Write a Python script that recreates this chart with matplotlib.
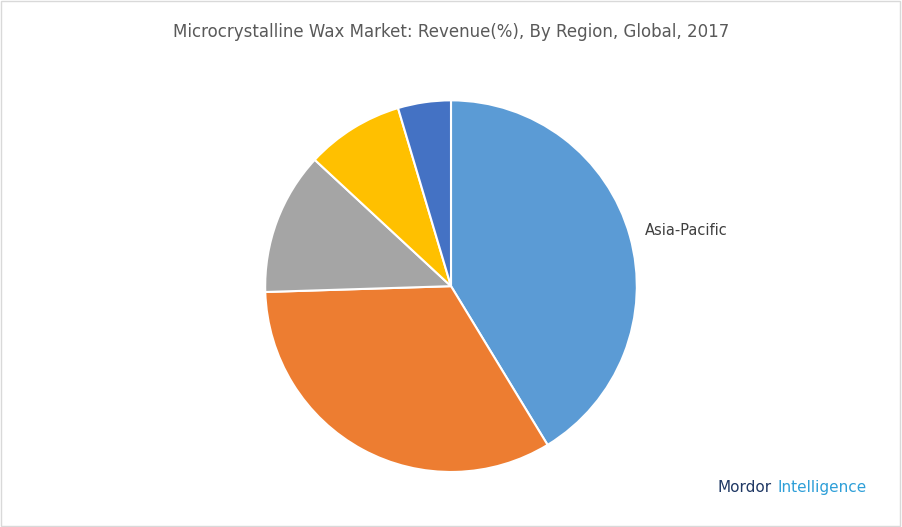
import matplotlib.pyplot as plt
from matplotlib.patches import Rectangle

regions = ["Asia-Pacific", "Europe", "North America", "South America", "Middle East & Africa"]
shares = [41.3, 33.2, 12.4, 8.5, 4.6]
colors = ["#5b9bd5", "#ed7d31", "#a5a5a5", "#ffc000", "#4472c4"]

fig = plt.figure(figsize=(9.02, 5.27), dpi=100)
fig.patches.append(Rectangle((0.001, 0.002), 0.997, 0.996, transform=fig.transFigure,
                             fill=False, edgecolor="#d9d9d9", linewidth=1))

ax = fig.add_axes([0.294, 0.104, 0.412, 0.706])
ax.pie(shares, colors=colors, startangle=90, counterclock=False,
       wedgeprops=dict(edgecolor="white", linewidth=1.5))
ax.set_xlim(-1, 1)
ax.set_ylim(-1, 1)
ax.set_aspect("equal")

fig.text(0.5, 0.94, "Microcrystalline Wax Market: Revenue(%), By Region, Global, 2017",
         ha="center", va="center", fontsize=12, color="#595959")
fig.text(645 / 902, 1 - 230 / 527, regions[0], ha="left", va="center",
         fontsize=10.5, color="#404040")

fig.text(0.795, 0.075, "Mordor", ha="left", va="center", fontsize=11, color="#1f3864")
fig.text(0.862, 0.075, "Intelligence", ha="left", va="center", fontsize=11, color="#2e9fd8")

fig.savefig("out.png", dpi=100)
